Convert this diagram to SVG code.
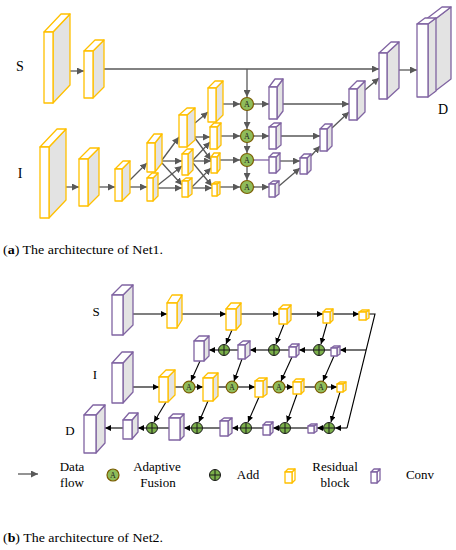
<svg xmlns="http://www.w3.org/2000/svg" width="456" height="550" viewBox="0 0 456 550">
<style>
.y{stroke:#FFC000;stroke-width:1.3;stroke-linejoin:round}
.p{stroke:#8064A2;stroke-width:1.3;stroke-linejoin:round}
.f{fill:#fff}.g{fill:#e3e3e3}
.a1{stroke:#595959;stroke-width:1.3;fill:none;marker-end:url(#mg)}
.l1{stroke:#595959;stroke-width:1.3;fill:none}
.a2{stroke:#000;stroke-width:1.1;fill:none;marker-end:url(#mb)}
.l2{stroke:#000;stroke-width:1.1;fill:none}
.ac{fill:#8fbc5a;stroke:#7a5c00;stroke-width:1.2}
.ad{fill:#7bb04a;stroke:#1a1a1a;stroke-width:1}
.at{font-family:"Liberation Serif",serif;font-size:8px;text-anchor:middle;fill:#222}
.lb{font-family:"Liberation Serif",serif;font-size:14px;text-anchor:middle;fill:#000}
.lg{font-family:"Liberation Serif",serif;font-size:13px;text-anchor:middle;fill:#000}
.cap{font-family:"Liberation Serif",serif;font-size:13px;fill:#000}
</style>
<defs>
<marker id="mg" viewBox="0 0 10 10" refX="10" refY="5" markerWidth="7" markerHeight="7" markerUnits="userSpaceOnUse" orient="auto"><path d="M0,0 L10,5 L0,10 z" fill="#595959"/></marker>
<marker id="mb" viewBox="0 0 10 10" refX="10" refY="5" markerWidth="6" markerHeight="6" markerUnits="userSpaceOnUse" orient="auto"><path d="M0,0 L10,5 L0,10 z" fill="#000"/></marker>
<g id="addsym"><circle r="5.5" class="ad"/><path d="M-5.5,0H5.5M0,-5.5V5.5" stroke="#1a1a1a" stroke-width="1"/></g>
</defs>

<!-- ============ Net1 ============ -->
<g id="connectors1">
<path class="a1" d="M70,71H84"/>
<path class="a1" d="M104,69H379"/>
<path class="a1" d="M247,69V97"/>
<path class="a1" d="M247,110V129"/>
<path class="a1" d="M247,142V153"/>
<path class="a1" d="M247,166V180"/>
<path class="a1" d="M66,187H79"/>
<path class="a1" d="M99,187H115"/>
<path class="a1" d="M130,187H147"/>
<path class="a1" d="M130,180L147,163"/>
<path class="a1" d="M162,160L179,137"/>
<path class="a1" d="M162,161H182"/>
<path class="a1" d="M162,163L182,185"/>
<path class="a1" d="M158,185L182,166"/>
<path class="a1" d="M158,188H182"/>
<path class="a1" d="M195,123L208,112"/>
<path class="a1" d="M195,137H210"/>
<path class="a1" d="M195,138L211,160"/>
<path class="a1" d="M193,160L210,142"/>
<path class="a1" d="M193,161H211"/>
<path class="a1" d="M193,163L212,186"/>
<path class="a1" d="M192,187L211,168"/>
<path class="a1" d="M192,188H212"/>
<path class="a1" d="M223,104H240"/>
<path class="a1" d="M221,136H240"/>
<path class="a1" d="M220,160H240"/>
<path class="a1" d="M220,187H240"/>
<path class="a1" d="M254,104H269"/>
<path class="a1" d="M254,136H269"/>
<path d="M254,160H269" stroke="#8064A2" stroke-width="1.3"/>
<path class="a1" d="M254,187H269"/>
<path class="a1" d="M283,104H349"/>
<path class="a1" d="M281,136H320"/>
<path class="a1" d="M280,161H300"/>
<path class="a1" d="M279,186L300,168"/>
<path class="a1" d="M311,156L320,146"/>
<path class="a1" d="M332,128L349,112"/>
<path class="a1" d="M365,90L379,78"/>
<path class="a1" d="M399,70H417"/>
</g>

<g id="n1-S1" class="y"><polygon class="g" points="53,32 70,14 70,85 53,103"/><polygon class="f" points="44,32 61,14 70,14 53,32"/><rect class="f" x="44" y="32" width="9" height="71"/></g>
<g id="n1-S2" class="y"><polygon class="g" points="93,51 104,40 104,87 93,98"/><polygon class="f" points="84,51 95,40 104,40 93,51"/><rect class="f" x="84" y="51" width="9" height="47"/></g>
<g id="n1-I1" class="y"><polygon class="g" points="49,147 66,129 66,200 49,218"/><polygon class="f" points="40,147 57,129 66,129 49,147"/><rect class="f" x="40" y="147" width="9" height="71"/></g>
<g id="n1-I2" class="y"><polygon class="g" points="88,159 99,148 99,195 88,206"/><polygon class="f" points="79,159 90,148 99,148 88,159"/><rect class="f" x="79" y="159" width="9" height="47"/></g>
<g id="n1-I3" class="y"><polygon class="g" points="122,169 130,161 130,193 122,201"/><polygon class="f" points="115,169 123,161 130,161 122,169"/><rect class="f" x="115" y="169" width="7" height="32"/></g>
<g id="n1-b4" class="y"><polygon class="g" points="153,178 158,173 158,196 153,201"/><polygon class="f" points="147,178 152,173 158,173 153,178"/><rect class="f" x="147" y="178" width="6" height="23"/></g>
<g id="n1-b5" class="y"><polygon class="g" points="155,143 162,134 162,163 155,172"/><polygon class="f" points="147,143 154,134 162,134 155,143"/><rect class="f" x="147" y="143" width="8" height="29"/></g>
<g id="n1-b6" class="y"><polygon class="g" points="187,115 195,108 195,140 187,147"/><polygon class="f" points="179,115 187,108 195,108 187,115"/><rect class="f" x="179" y="115" width="8" height="32"/></g>
<g id="n1-b7" class="y"><polygon class="g" points="188,154 193,149 193,170 188,175"/><polygon class="f" points="182,154 187,149 193,149 188,154"/><rect class="f" x="182" y="154" width="6" height="21"/></g>
<g id="n1-b8" class="y"><polygon class="g" points="188,181 192,178 192,194 188,197"/><polygon class="f" points="182,181 186,178 192,178 188,181"/><rect class="f" x="182" y="181" width="6" height="16"/></g>
<g id="n1-b9" class="y"><polygon class="g" points="216,88 223,81 223,115 216,122"/><polygon class="f" points="208,88 215,81 223,81 216,88"/><rect class="f" x="208" y="88" width="8" height="34"/></g>
<g id="n1-b10" class="y"><polygon class="g" points="217,127 221,123 221,145 217,149"/><polygon class="f" points="210,127 214,123 221,123 217,127"/><rect class="f" x="210" y="127" width="7" height="22"/></g>
<g id="n1-b11" class="y"><polygon class="g" points="217,157 220,153 220,169 217,173"/><polygon class="f" points="211,157 214,153 220,153 217,157"/><rect class="f" x="211" y="157" width="6" height="16"/></g>
<g id="n1-b12" class="y"><polygon class="g" points="217,184 220,182 220,194 217,196"/><polygon class="f" points="212,184 215,182 220,182 217,184"/><rect class="f" x="212" y="184" width="5" height="12"/></g>

<g id="n1-A1"><circle cx="247" cy="104" r="6.5" class="ac"/><text x="247" y="107" class="at">A</text></g>
<g id="n1-A2"><circle cx="247" cy="136" r="6.5" class="ac"/><text x="247" y="139" class="at">A</text></g>
<g id="n1-A3"><circle cx="247" cy="160" r="6.5" class="ac"/><text x="247" y="163" class="at">A</text></g>
<g id="n1-A4"><circle cx="247" cy="187" r="6.5" class="ac"/><text x="247" y="190" class="at">A</text></g>

<g id="n1-P1" class="p"><polygon class="g" points="277,87 283,79 283,111 277,119"/><polygon class="f" points="269,87 275,79 283,79 277,87"/><rect class="f" x="269" y="87" width="8" height="32"/></g>
<g id="n1-P2" class="p"><polygon class="g" points="276,127 281,123 281,145 276,149"/><polygon class="f" points="269,127 274,123 281,123 276,127"/><rect class="f" x="269" y="127" width="7" height="22"/></g>
<g id="n1-P3" class="p"><polygon class="g" points="276,157 280,153 280,169 276,173"/><polygon class="f" points="269,157 273,153 280,153 276,157"/><rect class="f" x="269" y="157" width="7" height="16"/></g>
<g id="n1-P4" class="p"><polygon class="g" points="275,184 279,181 279,194 275,197"/><polygon class="f" points="269,184 273,181 279,181 275,184"/><rect class="f" x="269" y="184" width="6" height="13"/></g>
<g id="n1-P5" class="p"><polygon class="g" points="307,158 311,154 311,170 307,174"/><polygon class="f" points="300,158 304,154 311,154 307,158"/><rect class="f" x="300" y="158" width="7" height="16"/></g>
<g id="n1-P6" class="p"><polygon class="g" points="327,129 332,124 332,146 327,151"/><polygon class="f" points="320,129 325,124 332,124 327,129"/><rect class="f" x="320" y="129" width="7" height="22"/></g>
<g id="n1-P7" class="p"><polygon class="g" points="357,89 365,81 365,112 357,120"/><polygon class="f" points="349,89 357,81 365,81 357,89"/><rect class="f" x="349" y="89" width="8" height="31"/></g>
<g id="n1-P8" class="p"><polygon class="g" points="387,53 399,42 399,88 387,99"/><polygon class="f" points="379,53 391,42 399,42 387,53"/><rect class="f" x="379" y="53" width="8" height="46"/></g>
<g id="n1-D" class="p">
<polygon class="g" points="434,20 451,7 451,79 434,92"/><polygon class="f" points="425,20 442,7 451,7 434,20"/><rect class="f" x="425" y="20" width="9" height="72"/>
<polygon class="g" points="428,24 436,18 436,91 428,97"/><polygon class="f" points="417,24 425,18 436,18 428,24"/><rect class="f" x="417" y="24" width="11" height="73"/>
</g>

<text x="20" y="71" class="lb">S</text>
<text x="20" y="178" class="lb">I</text>
<text x="443" y="114" class="lb">D</text>
<text x="3" y="254" class="cap" textLength="160" lengthAdjust="spacingAndGlyphs">(<tspan font-weight="bold">a</tspan>) The architecture of Net1.</text>

<!-- ============ Net2 ============ -->
<g id="connectors2">
<path class="a2" d="M133,314H167"/>
<path class="a2" d="M182,314H226"/>
<path class="a2" d="M241,314H279"/>
<path class="a2" d="M291,314H323"/>
<path class="a2" d="M333,314H359"/>
<path class="l2" d="M369,314H375L347,428"/>
<path class="a2" d="M347,428H335"/>
<path class="a2" d="M366,350H340"/>
<path class="a2" d="M218,350H209"/>
<path class="l2" d="M238,350H230"/>
<path class="a2" d="M268,350H250"/>
<path class="l2" d="M289,350H280"/>
<path class="a2" d="M313,350H299"/>
<path class="l2" d="M331,350H325"/>
<path class="a2" d="M232,330L226,344"/>
<path class="a2" d="M284,324L276,344"/>
<path class="a2" d="M327,323L321,344"/>
<path class="a2" d="M133,387H159"/>
<path class="l2" d="M175,387H183"/>
<path class="a2" d="M195,387H203"/>
<path class="l2" d="M218,387H226"/>
<path class="a2" d="M238,387H255"/>
<path class="l2" d="M267,387H273"/>
<path class="a2" d="M285,387H293"/>
<path class="l2" d="M304,387H315"/>
<path class="a2" d="M327,387H337"/>
<path class="a2" d="M200,361L191,381"/>
<path class="a2" d="M242,359L234,381"/>
<path class="a2" d="M292,357L281,381"/>
<path class="a2" d="M334,356L323,381"/>
<path class="a2" d="M123,428H105"/>
<path class="a2" d="M146,428H138"/>
<path class="l2" d="M169,428H158"/>
<path class="a2" d="M191,428H184"/>
<path class="l2" d="M220,428H203"/>
<path class="a2" d="M240,428H232"/>
<path class="l2" d="M263,428H252"/>
<path class="a2" d="M279,428H273"/>
<path class="l2" d="M308,428H291"/>
<path class="a2" d="M323,428H317"/>
<path class="a2" d="M166,402L154,422"/>
<path class="a2" d="M208,401L199,422"/>
<path class="a2" d="M259,397L248,422"/>
<path class="a2" d="M297,394L287,422"/>
<path class="a2" d="M340,392L331,422"/>
</g>

<g id="n2-PS" class="p"><polygon class="g" points="123,295 133,285 133,325 123,335"/><polygon class="f" points="112,295 122,285 133,285 123,295"/><rect class="f" x="112" y="295" width="11" height="40"/></g>
<g id="n2-PI" class="p"><polygon class="g" points="123,363 133,352 133,392 123,403"/><polygon class="f" points="112,363 122,352 133,352 123,363"/><rect class="f" x="112" y="363" width="11" height="40"/></g>
<g id="n2-PD" class="p"><polygon class="g" points="96,415 105,405 105,443 96,453"/><polygon class="f" points="84,415 93,405 105,405 96,415"/><rect class="f" x="84" y="415" width="12" height="38"/></g>

<g id="n2-Y1" class="y"><polygon class="g" points="177,303 182,295 182,320 177,328"/><polygon class="f" points="167,303 172,295 182,295 177,303"/><rect class="f" x="167" y="303" width="10" height="25"/></g>
<g id="n2-Y2" class="y"><polygon class="g" points="236,309 241,303 241,324 236,330"/><polygon class="f" points="226,309 231,303 241,303 236,309"/><rect class="f" x="226" y="309" width="10" height="21"/></g>
<g id="n2-Y3" class="y"><polygon class="g" points="287,309 291,305 291,320 287,324"/><polygon class="f" points="279,309 283,305 291,305 287,309"/><rect class="f" x="279" y="309" width="8" height="15"/></g>
<g id="n2-Y4" class="y"><polygon class="g" points="330,312 333,309 333,320 330,323"/><polygon class="f" points="323,312 326,309 333,309 330,312"/><rect class="f" x="323" y="312" width="7" height="11"/></g>
<g id="n2-Y5" class="y"><polygon class="g" points="366,312 369,310 369,318 366,320"/><polygon class="f" points="359,312 362,310 369,310 366,312"/><rect class="f" x="359" y="312" width="7" height="8"/></g>

<g id="n2-R1a" class="p"><polygon class="g" points="204,341 209,336 209,356 204,361"/><polygon class="f" points="194,341 199,336 209,336 204,341"/><rect class="f" x="194" y="341" width="10" height="20"/></g>
<g id="n2-R1b" class="p"><polygon class="g" points="245,345 250,341 250,355 245,359"/><polygon class="f" points="238,345 243,341 250,341 245,345"/><rect class="f" x="238" y="345" width="7" height="14"/></g>
<g id="n2-R1c" class="p"><polygon class="g" points="296,347 299,344 299,354 296,357"/><polygon class="f" points="289,347 292,344 299,344 296,347"/><rect class="f" x="289" y="347" width="7" height="10"/></g>
<g id="n2-R1d" class="p"><polygon class="g" points="337,348 340,346 340,354 337,356"/><polygon class="f" points="331,348 334,346 340,346 337,348"/><rect class="f" x="331" y="348" width="6" height="8"/></g>
<g id="n2-add-r1-1"><use href="#addsym" x="224" y="350"/></g>
<g id="n2-add-r1-2"><use href="#addsym" x="274" y="350"/></g>
<g id="n2-add-r1-3"><use href="#addsym" x="319" y="350"/></g>

<g id="n2-YI1" class="y"><polygon class="g" points="168,377 175,370 175,395 168,402"/><polygon class="f" points="159,377 166,370 175,370 168,377"/><rect class="f" x="159" y="377" width="9" height="25"/></g>
<g id="n2-YI2" class="y"><polygon class="g" points="213,378 218,373 218,396 213,401"/><polygon class="f" points="203,378 208,373 218,373 213,378"/><rect class="f" x="203" y="378" width="10" height="23"/></g>
<g id="n2-YI3" class="y"><polygon class="g" points="263,381 267,378 267,394 263,397"/><polygon class="f" points="255,381 259,378 267,378 263,381"/><rect class="f" x="255" y="381" width="8" height="16"/></g>
<g id="n2-YI4" class="y"><polygon class="g" points="301,382 304,379 304,391 301,394"/><polygon class="f" points="293,382 296,379 304,379 301,382"/><rect class="f" x="293" y="382" width="8" height="12"/></g>
<g id="n2-YI5" class="y"><polygon class="g" points="343,384 346,382 346,390 343,392"/><polygon class="f" points="337,384 340,382 346,382 343,384"/><rect class="f" x="337" y="384" width="6" height="8"/></g>
<g id="n2-A1"><circle cx="189" cy="387" r="5.8" class="ac"/><text x="189" y="390" class="at">A</text></g>
<g id="n2-A2"><circle cx="232" cy="387" r="5.8" class="ac"/><text x="232" y="390" class="at">A</text></g>
<g id="n2-A3"><circle cx="279" cy="387" r="5.8" class="ac"/><text x="279" y="390" class="at">A</text></g>
<g id="n2-A4"><circle cx="321" cy="387" r="5.8" class="ac"/><text x="321" y="390" class="at">A</text></g>

<g id="n2-D2" class="p"><polygon class="g" points="132,420 138,413 138,432 132,439"/><polygon class="f" points="123,420 129,413 138,413 132,420"/><rect class="f" x="123" y="420" width="9" height="19"/></g>
<g id="n2-D3" class="p"><polygon class="g" points="180,418 184,414 184,436 180,440"/><polygon class="f" points="169,418 173,414 184,414 180,418"/><rect class="f" x="169" y="418" width="11" height="22"/></g>
<g id="n2-D4" class="p"><polygon class="g" points="228,421 232,418 232,433 228,436"/><polygon class="f" points="220,421 224,418 232,418 228,421"/><rect class="f" x="220" y="421" width="8" height="15"/></g>
<g id="n2-D5" class="p"><polygon class="g" points="270,425 273,422 273,432 270,435"/><polygon class="f" points="263,425 266,422 273,422 270,425"/><rect class="f" x="263" y="425" width="7" height="10"/></g>
<g id="n2-D6" class="p"><polygon class="g" points="314,426 317,424 317,431 314,433"/><polygon class="f" points="308,426 311,424 317,424 314,426"/><rect class="f" x="308" y="426" width="6" height="7"/></g>
<g id="n2-add-d-1"><use href="#addsym" x="152" y="428"/></g>
<g id="n2-add-d-2"><use href="#addsym" x="197" y="428"/></g>
<g id="n2-add-d-3"><use href="#addsym" x="246" y="428"/></g>
<g id="n2-add-d-4"><use href="#addsym" x="285" y="428"/></g>
<g id="n2-add-d-5"><use href="#addsym" x="329" y="428"/></g>

<text x="96" y="316" class="lg">S</text>
<text x="95" y="379" class="lg">I</text>
<text x="70" y="435" class="lg">D</text>

<!-- Legend -->
<g id="legend">
<path class="a1" d="M18,474H38"/>
<text x="72" y="471" class="lg">Data</text><text x="72" y="487" class="lg">flow</text>
<circle cx="113" cy="475" r="6" class="ac"/><text x="113" y="478" class="at">A</text>
<text x="157" y="471" class="lg">Adaptive</text><text x="158" y="487" class="lg">Fusion</text>
<use href="#addsym" x="215" y="475"/>
<text x="248" y="479" class="lg">Add</text>
<g class="y"><polygon class="f" points="292,472 295,469 295,480 292,483"/><polygon class="f" points="285,472 288,469 295,469 292,472"/><rect class="f" x="285" y="472" width="7" height="11"/></g>
<text x="335" y="471" class="lg">Residual</text><text x="335" y="487" class="lg">block</text>
<g class="p"><polygon class="f" points="377,472 380,469 380,480 377,483"/><polygon class="f" points="371,472 374,469 380,469 377,472"/><rect class="f" x="371" y="472" width="6" height="11"/></g>
<text x="420" y="479" class="lg">Conv</text>
</g>

<text x="3" y="542" class="cap" textLength="160" lengthAdjust="spacingAndGlyphs">(<tspan font-weight="bold">b</tspan>) The architecture of Net2.</text>
</svg>
